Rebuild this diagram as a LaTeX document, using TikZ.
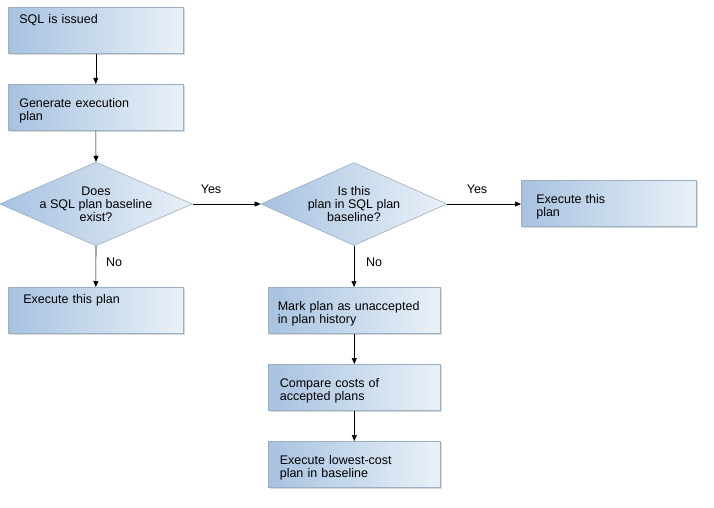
\documentclass[tikz,border=0pt]{standalone}
\usepackage{fontspec}
\setmainfont{Liberation Sans}
\usetikzlibrary{shapes.geometric,arrows.meta,shadows}
\definecolor{bdark}{HTML}{A7C2E0}
\definecolor{blight}{HTML}{EAF1F8}
\definecolor{bedge}{HTML}{9AAFC4}
\tikzset{
 box/.style={draw=bedge,line width=0.6pt,left color=bdark,right color=blight,
   minimum width=175pt,minimum height=46pt,text width=155pt,align=left,anchor=north west,
   inner xsep=0pt,inner ysep=0pt,font=\fontsize{12.5}{13}\selectfont,
   drop shadow={shadow xshift=1.5pt,shadow yshift=-1.5pt,fill=black!25,opacity=0.6}},
 dia/.style={diamond,draw=bedge,line width=0.6pt,left color=bdark,right color=blight,
   minimum width=186pt,minimum height=83pt,inner sep=0pt,aspect=2.3,align=center,
   font=\fontsize{12.5}{13}\selectfont},
 arr/.style={-{Triangle[length=6pt,width=5pt]},line width=0.6pt},
 lab/.style={font=\fontsize{12.5}{13}\selectfont}
}
\begin{document}
\begin{tikzpicture}[x=1pt,y=-1pt]
\useasboundingbox (0,0) rectangle (714,508);
\node[box,text depth=22pt] (a) at (8,7) {\hspace*{1pt}SQL is issued};
\node[box,text depth=9pt] (b) at (8,84) {\hspace*{1pt}Generate execution\\\hspace*{1pt}plan};
\node[dia] (d1) at (96,204) {Does\\a SQL plan baseline\\exist?};
\node[box,text depth=22pt] (c) at (8,287) {\hspace*{5pt}Execute this plan};
\node[dia] (d2) at (354,204) {Is this\\plan in SQL plan\\baseline?};
\node[box,text depth=9pt] (e) at (521,180) {\hspace*{5pt}Execute this\\\hspace*{5pt}plan};
\node[box,minimum width=172pt,text depth=9pt] (f) at (268,287) {\hspace*{1pt}Mark plan as unaccepted\\\hspace*{1pt}in plan history};
\node[box,minimum width=172pt,text depth=9pt] (g) at (268,364) {\hspace*{3pt}Compare costs of\\\hspace*{3pt}accepted plans};
\node[box,minimum width=172pt,text depth=9pt] (h) at (268,441) {\hspace*{3pt}Execute lowest-cost\\\hspace*{3pt}plan in baseline};
\draw[arr] (a.south) -- (b.north);
\draw[arr] (b.south) -- (d1.north);
\draw[arr] (d1.south) -- (c.north);
\draw[arr] (d1.east) -- (d2.west);
\draw[arr] (d2.east) -- (e.west|-d2.east);
\draw[arr] (d2.south) -- (f.north-|d2.south);
\draw[arr] (f.south) -- (g.north);
\draw[arr] (g.south) -- (h.north);
\node[lab] (y1) at (211,189) {Yes};
\node[lab] (y2) at (477,189) {Yes};
\node[lab] (n1) at (114,262) {No};
\node[lab] (n2) at (374,262) {No};
\end{tikzpicture}
\end{document}
